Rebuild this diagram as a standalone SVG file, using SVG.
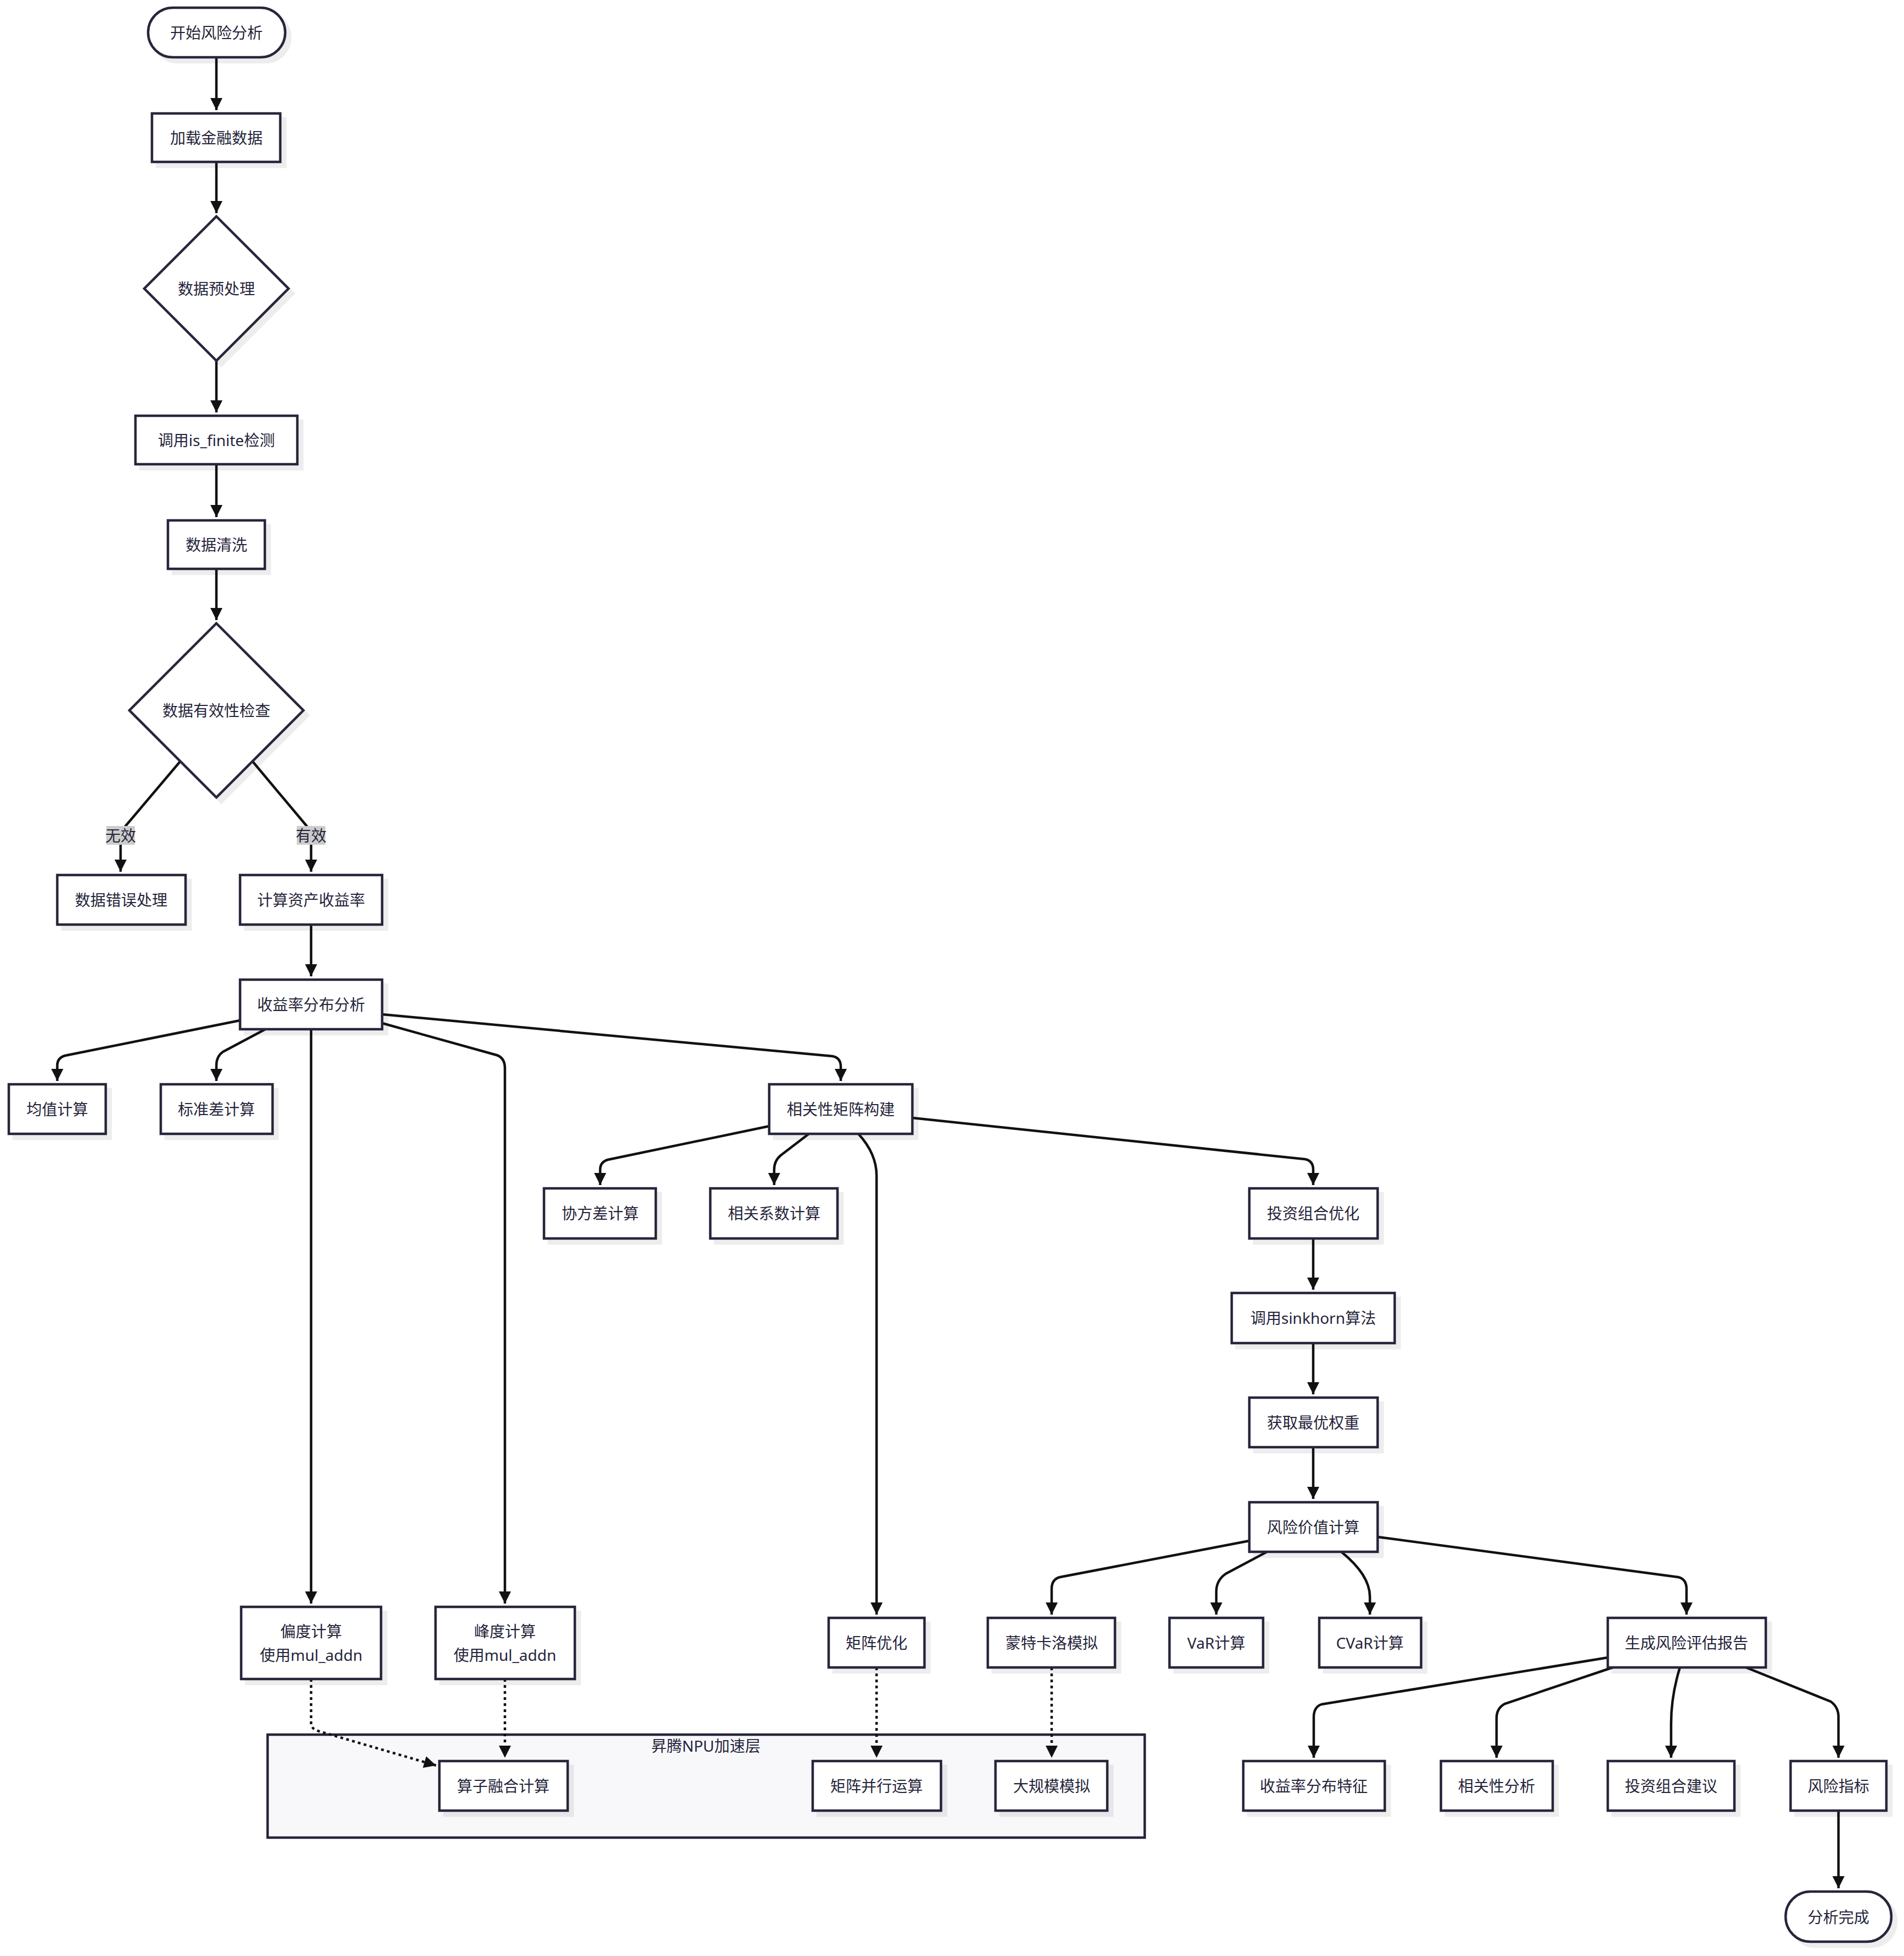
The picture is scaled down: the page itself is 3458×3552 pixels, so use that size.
<svg xmlns="http://www.w3.org/2000/svg" width="3458" height="3552" viewBox="0 0 3458 3552">
<style>
.n{fill:#fff;stroke:#25253a;stroke-width:4.5;filter:url(#sh)}
.t{font-family:"Noto Sans","Noto Sans CJK SC",sans-serif;font-size:28px;fill:#25253a;text-anchor:middle;dominant-baseline:central}
.e{fill:none;stroke:#111;stroke-width:4.5;marker-end:url(#ar)}
.d{stroke-dasharray:5 6}
.lb{fill:#cccccc}
</style>
<defs>
<filter id="sh" x="-20%" y="-20%" width="140%" height="140%"><feDropShadow dx="9" dy="9" stdDeviation="0" flood-color="#000" flood-opacity="0.07"/></filter>
<marker id="ar" viewBox="0 0 10 10" refX="10" refY="5" markerUnits="userSpaceOnUse" markerWidth="22" markerHeight="22" orient="auto"><path d="M0,0L10,5L0,10z" fill="#111"/></marker>
</defs>
<rect width="3458" height="3552" fill="#fff"/>
<g id="cluster"><rect x="486" y="3150" width="1593" height="187" fill="#f8f8fb" stroke="#25253a" stroke-width="4.5"/><text class="t" x="1282" y="3170">昇腾NPU加速层</text></g>
<g id="edges">
<path class="e" d="M393,104L393,200"/>
<path class="e" d="M393,294L393,387"/>
<path class="e" d="M393,655L393,749"/>
<path class="e" d="M393,843L393,939"/>
<path class="e" d="M393,1033L393,1126"/>
<path class="e" d="M327,1383L228,1500Q219,1511 219,1525L219,1583"/>
<path class="e" d="M459,1383L557,1500Q565,1511 565,1525L565,1583"/>
<path class="e" d="M565,1679L565,1773"/>
<path class="e" d="M436,1853L118,1917Q104,1921 104,1935L104,1963"/>
<path class="e" d="M482,1869L405,1910Q393,1918 393,1935L393,1963"/>
<path class="e" d="M565,1869L565,2912"/>
<path class="e" d="M694,1858L902,1916Q917,1921 917,1940L917,2912"/>
<path class="e" d="M694,1842L1512,1918Q1527,1921 1527,1937L1527,1963"/>
<path class="e" d="M1397,2045L1104,2106Q1090,2110 1090,2124L1090,2152"/>
<path class="e" d="M1469,2059L1418,2098Q1406,2108 1406,2124L1406,2152"/>
<path class="e" d="M1559,2059Q1592,2095 1592,2135L1592,2932"/>
<path class="e" d="M1657,2030L2370,2105Q2385,2108 2385,2124L2385,2152"/>
<path class="e" d="M2385,2249L2385,2342"/>
<path class="e" d="M2385,2439L2385,2532"/>
<path class="e" d="M2385,2628L2385,2722"/>
<path class="e" d="M2269,2798L1925,2864Q1910,2868 1910,2885L1910,2932"/>
<path class="e" d="M2301,2818L2226,2858Q2209,2870 2209,2890L2209,2932"/>
<path class="e" d="M2436,2818Q2488,2860 2488,2900L2488,2932"/>
<path class="e" d="M2502,2791L3048,2864Q3063,2868 3063,2885L3063,2932"/>
<path class="e d" d="M565,3049L565,3130Q565,3140 580,3144L792,3206"/>
<path class="e d" d="M917,3049L917,3192"/>
<path class="e d" d="M1592,3028L1592,3192"/>
<path class="e d" d="M1910,3028L1910,3192"/>
<path class="e" d="M2920,3010L2400,3095Q2386,3100 2386,3118L2386,3192"/>
<path class="e" d="M2929,3028L2733,3094Q2718,3102 2718,3120L2718,3192"/>
<path class="e" d="M3051,3028Q3035,3080 3035,3130L3035,3192"/>
<path class="e" d="M3171,3028L3325,3090Q3339,3100 3339,3118L3339,3192"/>
<path class="e" d="M3339,3288L3339,3429"/>
<rect class="lb" x="193" y="1500" width="52" height="34"/><text class="t" x="219" y="1517">无效</text>
<rect class="lb" x="539" y="1500" width="52" height="34"/><text class="t" x="565" y="1517">有效</text>
</g>
<g id="start"><rect class="n" x="269" y="14" width="249" height="90" rx="45"/><text class="t" x="393" y="59">开始风险分析</text></g>
<g id="load"><rect class="n" x="276" y="206" width="233" height="88"/><text class="t" x="393" y="250">加载金融数据</text></g>
<g id="pre"><path class="n" d="M393,393L524,524L393,655L262,524Z"/><text class="t" x="393" y="524">数据预处理</text></g>
<g id="finite"><rect class="n" x="246" y="755" width="294" height="88"/><text class="t" x="393" y="799">调用is_finite检测</text></g>
<g id="clean"><rect class="n" x="305" y="945" width="176" height="88"/><text class="t" x="393" y="989">数据清洗</text></g>
<g id="valid"><path class="n" d="M393,1132L551,1290L393,1448L235,1290Z"/><text class="t" x="393" y="1290">数据有效性检查</text></g>
<g id="err"><rect class="n" x="104" y="1589" width="233" height="90"/><text class="t" x="220" y="1634">数据错误处理</text></g>
<g id="ret"><rect class="n" x="436" y="1589" width="258" height="90"/><text class="t" x="565" y="1634">计算资产收益率</text></g>
<g id="dist"><rect class="n" x="436" y="1779" width="258" height="90"/><text class="t" x="565" y="1824">收益率分布分析</text></g>
<g id="mean"><rect class="n" x="16" y="1969" width="176" height="90"/><text class="t" x="104" y="2014">均值计算</text></g>
<g id="std"><rect class="n" x="292" y="1969" width="203" height="90"/><text class="t" x="393" y="2014">标准差计算</text></g>
<g id="corr"><rect class="n" x="1397" y="1969" width="260" height="90"/><text class="t" x="1527" y="2014">相关性矩阵构建</text></g>
<g id="cov"><rect class="n" x="988" y="2158" width="203" height="91"/><text class="t" x="1090" y="2203">协方差计算</text></g>
<g id="coef"><rect class="n" x="1290" y="2158" width="231" height="91"/><text class="t" x="1406" y="2203">相关系数计算</text></g>
<g id="opt"><rect class="n" x="2269" y="2158" width="233" height="91"/><text class="t" x="2385" y="2203">投资组合优化</text></g>
<g id="sink"><rect class="n" x="2237" y="2348" width="296" height="91"/><text class="t" x="2385" y="2393">调用sinkhorn算法</text></g>
<g id="w"><rect class="n" x="2269" y="2538" width="233" height="90"/><text class="t" x="2385" y="2583">获取最优权重</text></g>
<g id="var0"><rect class="n" x="2269" y="2728" width="233" height="90"/><text class="t" x="2385" y="2773">风险价值计算</text></g>
<g id="skew"><rect class="n" x="438" y="2918" width="254" height="131"/><text class="t" x="565" y="2962">偏度计算</text><text class="t" x="565" y="3005">使用mul_addn</text></g>
<g id="kurt"><rect class="n" x="791" y="2918" width="253" height="131"/><text class="t" x="917" y="2962">峰度计算</text><text class="t" x="917" y="3005">使用mul_addn</text></g>
<g id="mopt"><rect class="n" x="1505" y="2938" width="174" height="90"/><text class="t" x="1592" y="2983">矩阵优化</text></g>
<g id="mc"><rect class="n" x="1794" y="2938" width="231" height="90"/><text class="t" x="1910" y="2983">蒙特卡洛模拟</text></g>
<g id="var"><rect class="n" x="2124" y="2938" width="170" height="90"/><text class="t" x="2209" y="2983">VaR计算</text></g>
<g id="cvar"><rect class="n" x="2396" y="2938" width="185" height="90"/><text class="t" x="2488" y="2983">CVaR计算</text></g>
<g id="report"><rect class="n" x="2920" y="2938" width="287" height="90"/><text class="t" x="3063" y="2983">生成风险评估报告</text></g>
<g id="fuse"><rect class="n" x="798" y="3198" width="233" height="90"/><text class="t" x="914" y="3243">算子融合计算</text></g>
<g id="par"><rect class="n" x="1476" y="3198" width="233" height="90"/><text class="t" x="1592" y="3243">矩阵并行运算</text></g>
<g id="big"><rect class="n" x="1808" y="3198" width="203" height="90"/><text class="t" x="1910" y="3243">大规模模拟</text></g>
<g id="r1"><rect class="n" x="2258" y="3198" width="257" height="90"/><text class="t" x="2386" y="3243">收益率分布特征</text></g>
<g id="r2"><rect class="n" x="2617" y="3198" width="203" height="90"/><text class="t" x="2718" y="3243">相关性分析</text></g>
<g id="r3"><rect class="n" x="2920" y="3198" width="230" height="90"/><text class="t" x="3035" y="3243">投资组合建议</text></g>
<g id="r4"><rect class="n" x="3252" y="3198" width="174" height="90"/><text class="t" x="3339" y="3243">风险指标</text></g>
<g id="end"><rect class="n" x="3243" y="3435" width="192" height="91" rx="45"/><text class="t" x="3339" y="3481">分析完成</text></g>
</svg>
